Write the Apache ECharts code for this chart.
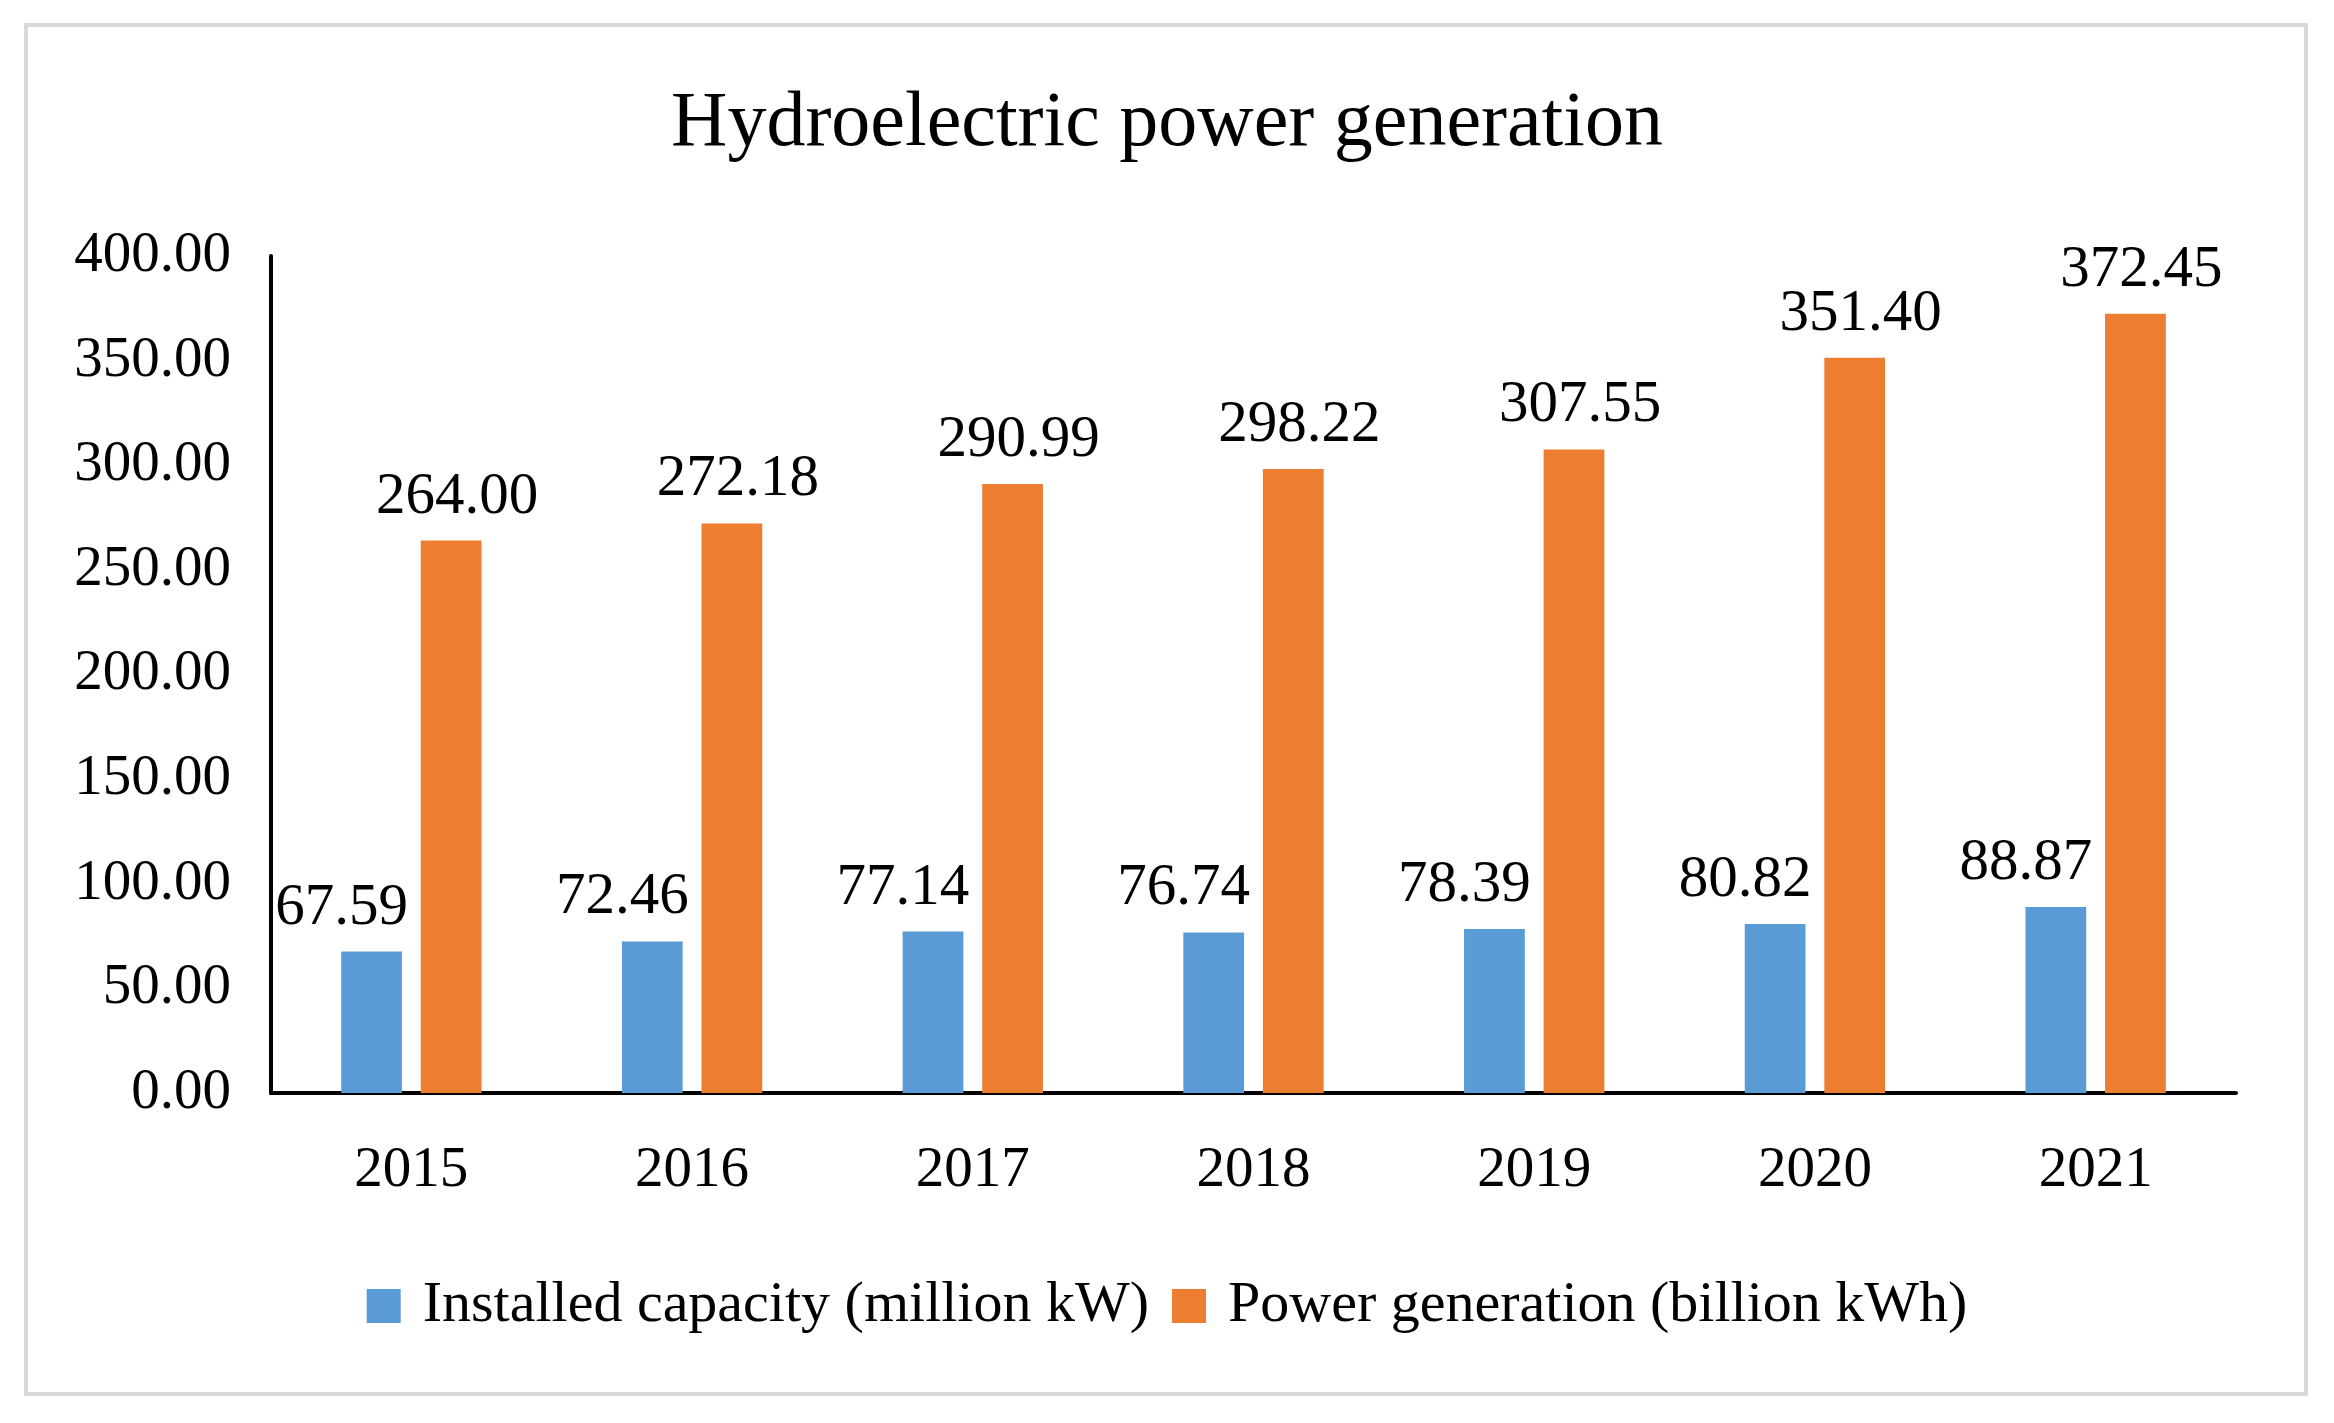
<!DOCTYPE html>
<html>
<head>
<meta charset="utf-8">
<title>Hydroelectric power generation</title>
<script src="https://cdn.jsdelivr.net/npm/echarts@6/dist/echarts.min.js"></script>
<style>
  html, body { margin: 0; padding: 0; background: #fff; }
  #chart { width: 2334px; height: 1423px; }
</style>
</head>
<body>
<div id="chart"></div>
<script>
// 数据
const years = ['2015', '2016', '2017', '2018', '2019', '2020', '2021']
const installedCapacity = [67.59, 72.46, 77.14, 76.74, 78.39, 80.82, 88.87]
const powerGeneration = [264.00, 272.18, 290.99, 298.22, 307.55, 351.40, 372.45]
const yTicks = { min: 0, max: 400, interval: 50 }

const FONT = "'Liberation Serif', 'Times New Roman', serif"

const chart = echarts.init(document.getElementById('chart'), null, { renderer: 'canvas' })

const labelStyle = (offsetX) => ({
  show: true,
  position: 'top',
  distance: 14,
  offset: [offsetX, 0],
  fontFamily: FONT,
  fontSize: 59,
  lineHeight: 59,
  color: '#000',
  formatter: (p) => p.value.toFixed(2)
})

const option = {
  backgroundColor: '#fff',
  animation: false,
  title: {
    text: 'Hydroelectric power generation',
    left: 'center',
    top: 81,
    textStyle: { fontFamily: FONT, fontSize: 78, lineHeight: 78, fontWeight: 'normal', color: '#000' }
  },
  legend: {
    top: 1277,
    left: 'center',
    padding: 0,
    itemWidth: 34,
    itemHeight: 34,
    itemGap: 23,
    icon: 'rect',
    textStyle: { fontFamily: FONT, fontSize: 58, lineHeight: 58, color: '#000', padding: [0, 0, 0, 17] },
    data: ['Installed capacity (million kW)', 'Power generation (billion kWh)']
  },
  grid: { left: 271, right: 98, top: 256, bottom: 330, containLabel: false },
  xAxis: {
    type: 'category',
    data: years,
    axisLine: { show: true, lineStyle: { color: '#000', width: 4 } },
    axisTick: { show: false },
    axisLabel: { margin: 50, fontFamily: FONT, fontSize: 57, lineHeight: 57, color: '#000' },
    splitLine: { show: false }
  },
  yAxis: {
    type: 'value',
    min: yTicks.min,
    max: yTicks.max,
    interval: yTicks.interval,
    axisLine: { show: true, lineStyle: { color: '#000', width: 4 } },
    axisTick: { show: false },
    splitLine: { show: false },
    axisLabel: {
      margin: 40,
      fontFamily: FONT,
      fontSize: 57,
      lineHeight: 57,
      padding: [9, 0, 0, 0],
      color: '#000',
      formatter: (v) => v.toFixed(2)
    }
  },
  series: [
    {
      name: 'Installed capacity (million kW)',
      type: 'bar',
      data: installedCapacity,
      barGap: '31%',
      barCategoryGap: '50%',
      itemStyle: { color: '#5B9BD5' },
      label: labelStyle(-30)
    },
    {
      name: 'Power generation (billion kWh)',
      type: 'bar',
      data: powerGeneration,
      barGap: '31%',
      barCategoryGap: '50%',
      itemStyle: { color: '#ED7D31' },
      label: labelStyle(6)
    }
  ],
  graphic: [
    {
      type: 'rect',
      silent: true,
      shape: { x: 26, y: 25, width: 2280, height: 1369 },
      style: { fill: 'none', stroke: '#d9d9d9', lineWidth: 4 }
    }
  ]
}

chart.setOption(option)
</script>
</body>
</html>
